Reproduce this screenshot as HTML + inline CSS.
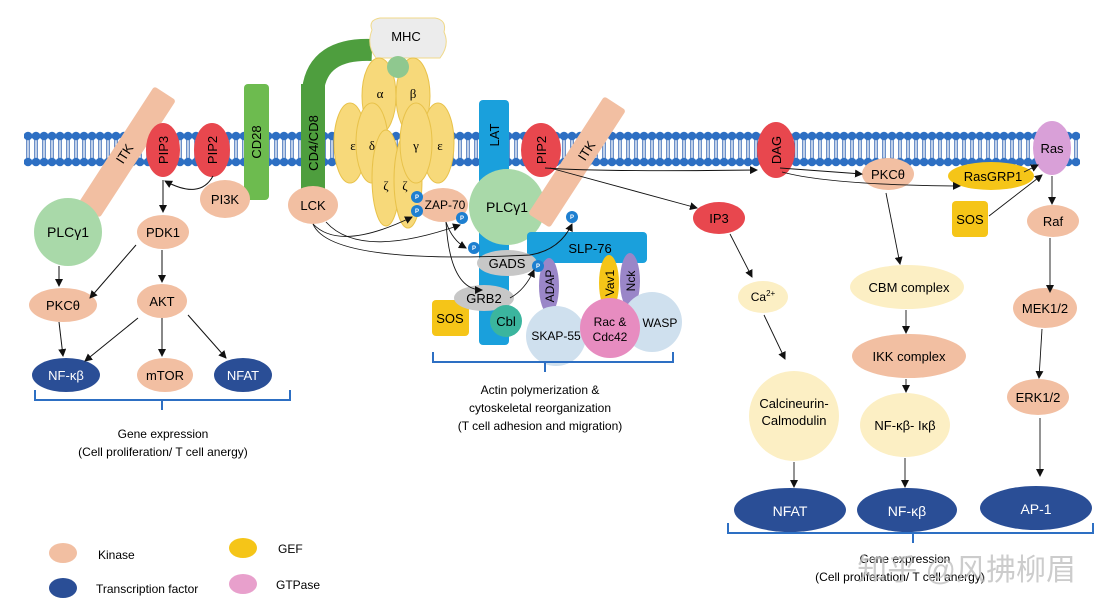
<!DOCTYPE html>
<html><head><meta charset="utf-8"><style>
html,body{margin:0;padding:0;background:#fff;}
svg{display:block;font-family:"Liberation Sans",Arial,sans-serif;}
</style></head><body>
<svg width="1107" height="613" viewBox="0 0 1107 613" xmlns="http://www.w3.org/2000/svg">
<defs>
<pattern id="mem" x="24" y="131" width="8" height="36" patternUnits="userSpaceOnUse">
<line x1="2.8" y1="8" x2="2.8" y2="28" stroke="#2d5fb0" stroke-width="1"/>
<line x1="5.2" y1="8" x2="5.2" y2="28" stroke="#2d5fb0" stroke-width="1"/>
<circle cx="4" cy="5" r="4.3" fill="#2d6fc3"/>
<circle cx="4" cy="31" r="4.3" fill="#2d6fc3"/>
</pattern>
<marker id="a" markerWidth="8" markerHeight="8" refX="7" refY="4" orient="auto" markerUnits="userSpaceOnUse"><path d="M0,0 L8,4 L0,8 z" fill="#111"/></marker>
</defs>
<rect x="24" y="131" width="1056" height="36" fill="url(#mem)"/>

<!-- Left ITK -->
<rect x="114" y="82" width="26" height="140" rx="3" fill="#f2bfa2" transform="rotate(33 127 152)"/>
<text x="125" y="158" font-size="13" text-anchor="middle" transform="rotate(-57 125 154)">ITK</text>
<circle cx="68" cy="232" r="34" fill="#a9d9a9"/>
<text x="68" y="237" font-size="14" text-anchor="middle">PLCγ1</text>
<ellipse cx="163" cy="150" rx="17" ry="27" fill="#e8474e"/>
<text x="163" y="155" font-size="13" text-anchor="middle" transform="rotate(-90 163 150)">PIP3</text>
<ellipse cx="212" cy="150" rx="18" ry="27" fill="#e8474e"/>
<text x="212" y="155" font-size="13" text-anchor="middle" transform="rotate(-90 212 150)">PIP2</text>
<rect x="244" y="84" width="25" height="116" rx="4" fill="#6dbb4f"/>
<text x="256" y="147" font-size="13" text-anchor="middle" transform="rotate(-90 256 142)">CD28</text>
<ellipse cx="225" cy="199" rx="25" ry="19" fill="#f2bfa2"/>
<text x="225" y="204" font-size="13" text-anchor="middle">PI3K</text>
<ellipse cx="163" cy="232" rx="26" ry="17" fill="#f2bfa2"/>
<text x="163" y="237" font-size="13" text-anchor="middle">PDK1</text>
<ellipse cx="63" cy="305" rx="34" ry="17" fill="#f2bfa2"/>
<text x="63" y="310" font-size="13" text-anchor="middle">PKCθ</text>
<ellipse cx="162" cy="301" rx="25" ry="17" fill="#f2bfa2"/>
<text x="162" y="306" font-size="13" text-anchor="middle">AKT</text>
<ellipse cx="66" cy="375" rx="34" ry="17" fill="#2a4e96"/>
<text x="66" y="380" font-size="13" text-anchor="middle" fill="#fff">NF-κβ</text>
<ellipse cx="165" cy="375" rx="28" ry="17" fill="#f2bfa2"/>
<text x="165" y="380" font-size="13" text-anchor="middle">mTOR</text>
<ellipse cx="243" cy="375" rx="29" ry="17" fill="#2a4e96"/>
<text x="243" y="380" font-size="13" text-anchor="middle" fill="#fff">NFAT</text>
<g stroke="#111" stroke-width="1" fill="none" marker-end="url(#a)">
<path d="M163 180 L163 212"/>
<path d="M213 176 Q200 200 165 181"/>
<path d="M59 266 L59 286"/>
<path d="M136 245 L90 298"/>
<path d="M162 250 L162 282"/>
<path d="M59 322 L63 356"/>
<path d="M138 318 L85 361"/>
<path d="M162 318 L162 356"/>
<path d="M188 315 L226 358"/>
</g>
<path d="M35 390 V400 H290 V390 M162 400 V410" stroke="#2d6fc3" stroke-width="2" fill="none"/>
<text x="163" y="438" font-size="12" text-anchor="middle">Gene expression</text>
<text x="163" y="456" font-size="12" text-anchor="middle">(Cell proliferation/ T cell anergy)</text>

<!-- CD4/CD8 + MHC -->
<path d="M313 90 Q318 48 372 50" stroke="#4e9e3e" stroke-width="22" fill="none"/>
<rect x="301" y="84" width="24" height="118" fill="#4e9e3e"/>
<text x="313" y="148" font-size="13" text-anchor="middle" transform="rotate(-90 313 143)">CD4/CD8</text>
<path d="M372 30 Q368 20 380 18 L435 18 Q447 20 444 32 Q450 45 440 58 L376 58 Q366 45 372 30 z" fill="#ececec" stroke="#f0d98a"/>
<text x="406" y="41" font-size="13" text-anchor="middle">MHC</text>
<ellipse cx="379" cy="96" rx="17" ry="38" fill="#f7d97a" stroke="#e8c24a"/>
<ellipse cx="413" cy="96" rx="17" ry="38" fill="#f7d97a" stroke="#e8c24a"/>
<circle cx="398" cy="67" r="11" fill="#8fc88f"/>
<ellipse cx="350" cy="143" rx="16" ry="40" fill="#f7d97a" stroke="#e8c24a"/>
<ellipse cx="372" cy="143" rx="16" ry="40" fill="#f7d97a" stroke="#e8c24a"/>
<ellipse cx="438" cy="143" rx="16" ry="40" fill="#f7d97a" stroke="#e8c24a"/>
<ellipse cx="386" cy="178" rx="14" ry="48" fill="#f7d97a" stroke="#e8c24a"/>
<ellipse cx="408" cy="180" rx="14" ry="48" fill="#f7d97a" stroke="#e8c24a"/>
<ellipse cx="416" cy="143" rx="16" ry="40" fill="#f7d97a" stroke="#e8c24a"/>
<g font-size="13" text-anchor="middle" font-family="Liberation Serif,serif">
<text x="380" y="98">α</text><text x="413" y="98">β</text>
<text x="353" y="150">ε</text><text x="372" y="150">δ</text><text x="416" y="150">γ</text><text x="440" y="150">ε</text>
<text x="386" y="190">ζ</text><text x="405" y="190">ζ</text>
</g>
<ellipse cx="313" cy="205" rx="25" ry="19" fill="#f2bfa2"/>
<text x="313" y="210" font-size="13" text-anchor="middle">LCK</text>

<!-- LAT -->
<rect x="479" y="100" width="30" height="245" rx="4" fill="#1aa0dc"/>
<text x="494" y="140" font-size="13" text-anchor="middle" transform="rotate(-90 494 135)">LAT</text>
<ellipse cx="541" cy="150" rx="20" ry="27" fill="#e8474e"/>
<text x="541" y="155" font-size="13" text-anchor="middle" transform="rotate(-90 541 150)">PIP2</text>
<circle cx="507" cy="207" r="38" fill="#a9d9a9"/>
<text x="507" y="212" font-size="14" text-anchor="middle">PLCγ1</text>
<ellipse cx="443" cy="205" rx="25" ry="17" fill="#f2bfa2"/>
<text x="445" y="209" font-size="12" text-anchor="middle">ZAP-70</text>
<rect x="564" y="92" width="26" height="140" rx="3" fill="#f2bfa2" transform="rotate(33 577 162)"/>
<text x="587" y="155" font-size="13" text-anchor="middle" transform="rotate(-57 587 151)">ITK</text>
<rect x="527" y="232" width="120" height="31" rx="4" fill="#1aa0dc"/>
<text x="590" y="253" font-size="13" text-anchor="middle">SLP-76</text>
<ellipse cx="507" cy="263" rx="30" ry="13" fill="#c7c7c7"/>
<text x="507" y="268" font-size="13" text-anchor="middle">GADS</text>
<rect x="432" y="300" width="37" height="36" rx="4" fill="#f5c518"/>
<text x="450" y="323" font-size="13" text-anchor="middle">SOS</text>
<ellipse cx="484" cy="298" rx="30" ry="13" fill="#c7c7c7"/>
<text x="484" y="303" font-size="13" text-anchor="middle">GRB2</text>
<circle cx="506" cy="321" r="16" fill="#3bb59e"/>
<text x="506" y="326" font-size="13" text-anchor="middle">Cbl</text>
<ellipse cx="549" cy="286" rx="10" ry="28" fill="#9a86c8"/>
<circle cx="556" cy="336" r="30" fill="#cfe0ee"/>
<text x="549" y="291" font-size="12" text-anchor="middle" transform="rotate(-90 549 286)">ADAP</text>
<text x="556" y="340" font-size="12" text-anchor="middle">SKAP-55</text>
<ellipse cx="609" cy="283" rx="10" ry="28" fill="#f5c518"/>
<ellipse cx="630" cy="281" rx="10" ry="28" fill="#9a86c8"/>
<text x="609" y="288" font-size="12" text-anchor="middle" transform="rotate(-90 609 283)">Vav1</text>
<text x="630" y="286" font-size="12" text-anchor="middle" transform="rotate(-90 630 281)">Nck</text>
<circle cx="652" cy="322" r="30" fill="#cfe0ee"/>
<circle cx="610" cy="328" r="30" fill="#e78cc0"/>
<text x="610" y="326" font-size="12" text-anchor="middle">Rac &amp;</text>
<text x="610" y="341" font-size="12" text-anchor="middle">Cdc42</text>
<text x="660" y="327" font-size="12" text-anchor="middle">WASP</text>
<g fill="#1e7fd0"><circle cx="417" cy="197" r="6"/><circle cx="417" cy="211" r="6"/><circle cx="462" cy="218" r="6"/><circle cx="572" cy="217" r="6"/><circle cx="474" cy="248" r="6"/><circle cx="538" cy="266" r="6"/></g>
<g fill="#fff" font-size="6" text-anchor="middle" font-weight="bold"><text x="417" y="199">P</text><text x="417" y="213">P</text><text x="462" y="220">P</text><text x="572" y="219">P</text><text x="474" y="250">P</text><text x="538" y="268">P</text></g>
<g stroke="#111" stroke-width="0.9" fill="none" marker-end="url(#a)">
<path d="M313 224 Q340 252 412 217"/>
<path d="M326 222 Q360 260 460 225"/>
<path d="M313 224 Q330 265 530 255 Q560 250 572 224"/>
<path d="M446 222 Q452 240 466 248"/>
<path d="M446 222 Q450 290 482 290"/>
<path d="M510 298 Q525 290 534 270"/>
<path d="M550 168 L697 208"/>
</g>
<path d="M433 352 V362 H673 V352 M545 362 V372" stroke="#2d6fc3" stroke-width="2" fill="none"/>
<text x="540" y="394" font-size="12" text-anchor="middle">Actin polymerization &amp;</text>
<text x="540" y="412" font-size="12" text-anchor="middle">cytoskeletal reorganization</text>
<text x="540" y="430" font-size="12" text-anchor="middle">(T cell adhesion and migration)</text>

<!-- right -->
<ellipse cx="719" cy="218" rx="26" ry="16" fill="#e8474e"/>
<text x="719" y="223" font-size="13" text-anchor="middle">IP3</text>
<ellipse cx="763" cy="297" rx="25" ry="16" fill="#fcefc4"/>
<text x="763" y="301" font-size="12" text-anchor="middle">Ca<tspan font-size="8" dy="-5">2+</tspan></text>
<ellipse cx="794" cy="416" rx="45" ry="45" fill="#fcefc4"/>
<text x="794" y="408" font-size="13" text-anchor="middle">Calcineurin-</text>
<text x="794" y="425" font-size="13" text-anchor="middle">Calmodulin</text>
<ellipse cx="790" cy="510" rx="56" ry="22" fill="#2a4e96"/>
<text x="790" y="516" font-size="14" text-anchor="middle" fill="#fff">NFAT</text>
<ellipse cx="776" cy="150" rx="19" ry="28" fill="#e8474e"/>
<text x="776" y="155" font-size="13" text-anchor="middle" transform="rotate(-90 776 150)">DAG</text>
<ellipse cx="888" cy="174" rx="26" ry="16" fill="#f2bfa2"/>
<text x="888" y="179" font-size="13" text-anchor="middle">PKCθ</text>
<ellipse cx="991" cy="176" rx="43" ry="14" fill="#f5c518"/>
<text x="993" y="181" font-size="13" text-anchor="middle">RasGRP1</text>
<ellipse cx="1052" cy="148" rx="19" ry="27" fill="#d9a0d8"/>
<text x="1052" y="153" font-size="13" text-anchor="middle">Ras</text>
<rect x="952" y="201" width="36" height="36" rx="4" fill="#f5c518"/>
<text x="970" y="224" font-size="13" text-anchor="middle">SOS</text>
<ellipse cx="1053" cy="221" rx="26" ry="16" fill="#f2bfa2"/>
<text x="1053" y="226" font-size="13" text-anchor="middle">Raf</text>
<ellipse cx="907" cy="287" rx="57" ry="22" fill="#fcefc4"/>
<text x="909" y="292" font-size="13" text-anchor="middle">CBM complex</text>
<ellipse cx="909" cy="356" rx="57" ry="22" fill="#f2bfa2"/>
<text x="909" y="361" font-size="13" text-anchor="middle">IKK complex</text>
<ellipse cx="905" cy="425" rx="45" ry="32" fill="#fcefc4"/>
<text x="905" y="430" font-size="13" text-anchor="middle">NF-κβ- Iκβ</text>
<ellipse cx="907" cy="510" rx="50" ry="22" fill="#2a4e96"/>
<text x="907" y="516" font-size="14" text-anchor="middle" fill="#fff">NF-κβ</text>
<ellipse cx="1045" cy="308" rx="32" ry="20" fill="#f2bfa2"/>
<text x="1045" y="313" font-size="13" text-anchor="middle">MEK1/2</text>
<ellipse cx="1038" cy="397" rx="31" ry="18" fill="#f2bfa2"/>
<text x="1038" y="402" font-size="13" text-anchor="middle">ERK1/2</text>
<ellipse cx="1036" cy="508" rx="56" ry="22" fill="#2a4e96"/>
<text x="1036" y="514" font-size="14" text-anchor="middle" fill="#fff">AP-1</text>
<g stroke="#111" stroke-width="0.9" fill="none" marker-end="url(#a)">
<path d="M545 168 Q600 172 757 170"/>
<path d="M780 168 L862 174"/>
<path d="M782 172 Q830 185 960 186"/>
<path d="M1024 172 L1038 165"/>
<path d="M989 216 L1042 175"/>
<path d="M1052 176 L1052 204"/>
<path d="M730 234 L752 277"/>
<path d="M764 315 L785 359"/>
<path d="M886 193 L900 264"/>
<path d="M906 310 L906 333"/>
<path d="M906 379 L906 392"/>
<path d="M1050 238 L1050 292"/>
<path d="M1042 329 L1039 378"/>
<path d="M794 462 L794 487"/>
<path d="M905 458 L905 487"/>
<path d="M1040 418 L1040 476"/>
</g>
<path d="M728 523 V533 H1093 V523 M913 533 V543" stroke="#2d6fc3" stroke-width="2" fill="none"/>
<text x="905" y="563" font-size="12" text-anchor="middle">Gene expression</text>
<text x="900" y="581" font-size="12" text-anchor="middle">(Cell proliferation/ T cell anergy)</text>
<text x="1076" y="580" font-size="30" text-anchor="end" fill="#bbb" fill-opacity="0.75" font-family="Liberation Sans,'Noto Sans CJK SC',sans-serif">知乎 @风拂柳眉</text>

<!-- legend -->
<ellipse cx="63" cy="553" rx="14" ry="10" fill="#f2bfa2"/>
<text x="98" y="559" font-size="12">Kinase</text>
<ellipse cx="63" cy="588" rx="14" ry="10" fill="#2a4e96"/>
<text x="96" y="593" font-size="12">Transcription factor</text>
<ellipse cx="243" cy="548" rx="14" ry="10" fill="#f5c518"/>
<text x="278" y="553" font-size="12">GEF</text>
<ellipse cx="243" cy="584" rx="14" ry="10" fill="#e8a0cc"/>
<text x="276" y="589" font-size="12">GTPase</text>
</svg>
</body></html>
